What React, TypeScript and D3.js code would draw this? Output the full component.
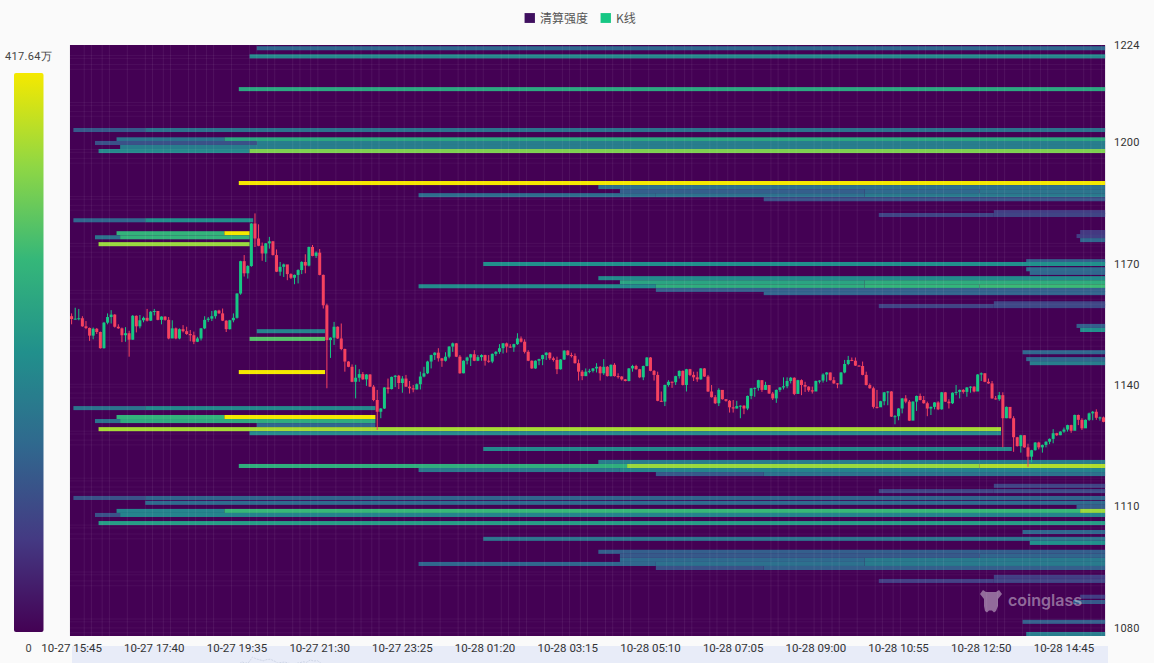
import React from 'react';
import * as d3 from 'd3';

const WIDTH = 1154;
const HEIGHT = 663;
const MAX_VALUE = 417.64;

// 5 minute candles, each opens at the previous close
const firstOpen = 1157.0;
const closes = [
  1156.3,1156.4,1156.5,1154.5,1154.1,1152.2,1153.9,1153.1,1149.1,1155.4,
  1156.8,1157.4,1154.4,1154.0,1152.3,1152.8,1151.2,1157.1,1154.5,1156.0,
  1156.6,1155.9,1158.1,1158.3,1156.1,1156.9,1156.1,1151.5,1154.0,1151.5,
  1153.8,1153.3,1152.6,1152.3,1150.7,1151.5,1154.0,1156.1,1156.4,1157.0,
  1158.4,1157.7,1155.9,1153.8,1156.0,1156.6,1162.6,1170.6,1167.6,1169.4,
  1179.9,1176.2,1174.4,1172.5,1175.0,1175.5,1172.1,1168.0,1169.2,1169.8,
  1167.4,1166.5,1167.2,1168.4,1170.4,1169.5,1174.1,1171.9,1172.7,1167.2,
  1159.7,1151.1,1151.7,1154.4,1151.5,1148.9,1145.8,1144.5,1140.8,1141.8,
  1142.7,1141.4,1142.6,1139.6,1136.3,1133.4,1134.2,1139.4,1139.0,1142.0,
  1142.3,1140.5,1141.6,1139.6,1139.2,1138.9,1140.2,1142.1,1142.9,1145.8,
  1147.4,1148.0,1146.6,1146.0,1147.0,1149.5,1150.3,1147.0,1142.9,1146.0,
  1146.8,1147.6,1146.0,1146.9,1147.4,1146.0,1145.8,1147.7,1148.2,1149.1,
  1150.3,1149.5,1149.3,1150.1,1151.5,1150.7,1148.2,1146.0,1144.1,1146.0,
  1146.4,1147.4,1148.0,1146.6,1146.2,1143.9,1146.3,1148.5,1147.4,1147.2,
  1145.4,1143.3,1142.2,1143.3,1143.5,1144.1,1144.5,1142.9,1144.5,1142.2,
  1145.0,1142.2,1142.1,1141.4,1141.0,1144.1,1144.7,1143.9,1141.9,1144.7,
  1146.8,1143.5,1142.5,1136.1,1135.9,1140.0,1140.8,1140.7,1142.2,1143.5,
  1140.0,1143.9,1142.5,1141.9,1141.4,1144.1,1142.1,1138.4,1137.0,1135.5,
  1138.8,1136.5,1136.1,1134.5,1134.2,1134.8,1134.9,1134.2,1137.3,1139.2,
  1139.3,1141.2,1138.8,1140.0,1137.9,1136.7,1138.8,1139.4,1139.7,1141.0,
  1141.8,1137.8,1141.2,1140.0,1139.6,1138.7,1138.4,1141.0,1141.1,1142.6,
  1143.1,1141.2,1140.4,1140.2,1143.1,1145.2,1146.2,1146.0,1144.8,1144.7,
  1142.5,1140.0,1139.2,1134.6,1134.5,1136.0,1138.2,1138.4,1132.2,1132.3,
  1134.2,1136.7,1135.9,1131.2,1135.9,1137.3,1136.3,1135.5,1134.2,1134.6,
  1135.7,1134.0,1138.2,1135.9,1135.5,1138.1,1138.3,1138.8,1138.3,1139.4,
  1139.6,1138.4,1142.6,1142.9,1140.8,1140.4,1136.7,1136.5,1137.5,1131.8,
  1134.6,1131.8,1127.1,1124.9,1127.6,1124.6,1122.3,1123.9,1125.8,1124.6,
  1125.2,1126.0,1126.7,1128.1,1127.6,1128.5,1129.0,1130.1,1128.7,1132.6,
  1131.4,1129.3,1131.4,1133.0,1133.4,1131.9,1132.0,1130.9,
];
const highs = [
  1157.7,1159.1,1158.8,1157.0,1155.8,1154.2,1154.2,1154.1,1153.2,1155.6,
  1157.7,1158.5,1157.5,1155.0,1154.2,1154.3,1153.4,1157.3,1157.2,1157.3,
  1156.9,1158.8,1158.3,1158.8,1158.2,1157.0,1157.0,1156.8,1156.0,1154.2,
  1154.0,1154.8,1154.4,1153.6,1153.2,1151.9,1154.1,1157.0,1156.8,1158.3,
  1158.5,1158.6,1158.9,1156.0,1156.1,1157.7,1162.7,1170.7,1172.1,1169.6,
  1180.0,1182.4,1179.7,1175.2,1175.1,1176.6,1175.6,1173.5,1170.4,1170.0,
  1169.4,1167.6,1167.3,1168.6,1170.6,1172.3,1174.2,1174.6,1173.0,1173.6,
  1167.3,1160.1,1151.8,1155.6,1154.5,1155.2,1149.0,1145.9,1145.1,1145.0,
  1143.9,1143.2,1142.7,1142.7,1140.0,1138.8,1134.3,1139.5,1141.6,1142.1,
  1142.5,1142.5,1142.2,1142.5,1141.0,1140.0,1140.4,1143.3,1144.5,1146.0,
  1147.5,1148.1,1149.1,1146.7,1148.1,1149.6,1150.5,1150.4,1147.4,1146.1,
  1147.0,1147.7,1148.6,1147.4,1147.6,1147.5,1147.4,1147.8,1148.4,1150.1,
  1150.4,1150.5,1150.1,1150.2,1152.8,1152.0,1151.3,1148.6,1146.1,1146.1,
  1146.5,1147.5,1148.1,1148.1,1147.0,1147.0,1146.4,1148.6,1148.6,1148.0,
  1147.8,1146.3,1143.7,1144.1,1144.0,1144.2,1145.4,1144.7,1146.4,1144.7,
  1145.1,1145.4,1142.9,1142.2,1141.5,1144.2,1145.0,1145.0,1144.0,1144.8,
  1146.9,1146.9,1143.7,1143.3,1138.4,1140.1,1141.2,1140.9,1142.3,1143.6,
  1143.6,1144.0,1144.0,1143.3,1143.3,1144.2,1144.2,1142.5,1140.0,1137.5,
  1139.2,1138.6,1136.5,1136.3,1136.3,1136.1,1135.0,1135.0,1137.4,1139.3,
  1139.4,1141.3,1141.2,1140.8,1140.0,1138.3,1138.9,1139.5,1141.9,1141.9,
  1142.0,1141.9,1141.3,1141.4,1140.8,1139.7,1139.6,1141.1,1141.2,1142.9,
  1143.2,1143.1,1142.0,1140.5,1143.2,1146.2,1147.2,1146.8,1146.8,1144.9,
  1145.8,1143.3,1140.4,1139.6,1138.8,1136.1,1138.3,1138.5,1138.5,1132.6,
  1134.3,1136.8,1137.5,1136.3,1136.0,1137.4,1137.9,1137.3,1135.9,1134.7,
  1135.8,1136.0,1138.3,1138.3,1136.5,1138.2,1140.0,1138.9,1139.0,1139.5,
  1139.7,1139.7,1142.7,1143.1,1142.9,1141.6,1141.0,1137.3,1138.3,1138.2,
  1134.7,1134.4,1132.3,1127.2,1127.7,1127.6,1125.5,1124.0,1125.9,1126.0,
  1125.3,1126.1,1126.8,1129.1,1128.2,1128.6,1129.5,1130.2,1130.2,1132.7,
  1132.7,1131.8,1131.5,1133.2,1133.6,1134.0,1132.2,1132.2,
];
const lows = [
  1155.0,1156.2,1156.0,1154.4,1153.8,1150.9,1151.3,1152.6,1149.0,1149.0,
  1155.0,1155.2,1154.2,1153.9,1150.6,1150.7,1147.0,1151.2,1153.0,1154.0,
  1155.5,1155.7,1155.8,1157.2,1156.0,1155.0,1155.9,1151.3,1152.5,1151.3,
  1151.3,1153.0,1152.4,1150.8,1150.1,1150.6,1151.0,1153.8,1155.6,1155.8,
  1156.4,1157.6,1155.8,1153.1,1153.7,1155.5,1156.4,1162.3,1166.8,1166.3,
  1169.2,1174.1,1174.3,1170.7,1170.4,1173.7,1172.0,1167.9,1167.0,1166.7,
  1165.9,1166.2,1164.9,1165.1,1167.4,1167.6,1169.3,1171.8,1171.4,1167.1,
  1158.9,1139.2,1146.7,1149.9,1151.4,1148.6,1143.3,1144.4,1140.7,1136.7,
  1140.8,1141.3,1139.8,1139.5,1136.0,1128.9,1131.8,1134.1,1137.9,1138.9,
  1139.5,1139.0,1138.1,1139.5,1137.9,1138.2,1138.9,1138.9,1141.9,1142.7,
  1144.1,1146.2,1145.8,1144.5,1145.8,1146.6,1148.2,1146.9,1142.8,1142.9,
  1145.1,1144.7,1145.9,1145.9,1146.0,1144.8,1145.5,1145.4,1147.2,1147.7,
  1147.8,1148.0,1149.2,1148.2,1149.9,1150.5,1147.8,1145.9,1144.0,1144.0,
  1144.9,1144.9,1146.2,1146.2,1145.8,1142.7,1143.8,1146.2,1147.3,1146.8,
  1145.3,1141.1,1141.2,1142.2,1142.9,1143.1,1143.1,1141.1,1142.5,1142.1,
  1142.1,1142.1,1141.6,1141.1,1140.9,1140.9,1143.3,1143.8,1141.7,1141.2,
  1144.6,1143.4,1141.1,1136.0,1135.8,1134.8,1139.6,1139.3,1140.0,1141.6,
  1139.9,1138.4,1142.2,1141.0,1140.8,1141.3,1142.0,1138.3,1136.9,1135.3,
  1134.8,1136.4,1135.9,1133.2,1133.2,1134.2,1131.8,1132.8,1133.8,1136.5,
  1137.1,1138.6,1138.3,1138.8,1137.8,1136.3,1135.6,1138.3,1138.9,1139.2,
  1140.4,1137.5,1137.9,1137.5,1138.3,1138.3,1137.9,1138.8,1140.4,1140.6,
  1140.8,1141.1,1140.3,1139.2,1140.1,1142.9,1144.9,1145.9,1144.7,1144.6,
  1142.4,1139.9,1139.1,1134.2,1134.2,1135.0,1135.0,1135.0,1132.1,1130.3,
  1131.3,1133.0,1135.5,1131.1,1131.4,1133.6,1136.2,1135.4,1132.3,1132.6,
  1134.0,1133.8,1133.9,1135.8,1134.2,1135.3,1137.5,1136.7,1137.9,1137.1,
  1138.1,1138.2,1138.8,1141.0,1140.7,1140.3,1136.6,1136.4,1136.1,1124.6,
  1131.8,1131.7,1123.5,1124.8,1123.3,1124.5,1119.8,1120.9,1123.8,1124.1,
  1123.3,1124.6,1125.4,1125.6,1127.4,1127.6,1128.2,1128.5,1128.2,1130.1,
  1130.1,1128.9,1129.5,1131.1,1131.3,1131.4,1131.2,1130.8,
];

// liquidation bands: [price, first candle, last candle, intensity in 万]
const bands: [number, number, number, number][] = [
  [1223.2,52,288,138],[1221.2,50,288,196],[1213.1,47,288,250],
  [1203.0,1,21,117],[1203.0,21,288,159],
  [1200.7,13,43,159],[1200.7,43,288,250],
  [1199.8,7,52,104],[1199.8,52,288,175],
  [1198.8,14,288,175],
  [1197.8,8,50,196],[1197.8,50,288,334],
  [1189.9,47,288,417.64],
  [1188.9,147,288,155],
  [1187.9,153,221,125],[1187.9,221,253,142],[1187.9,253,288,160],
  [1186.9,97,163,150],[1186.9,163,221,155],[1186.9,221,288,170],
  [1185.9,193,288,104],
  [1182.7,257,288,75],[1182.0,225,257,84],[1182.0,257,288,84],
  [1177.8,281,288,67],[1176.8,280,288,75],[1175.8,281,288,138],
  [1180.7,1,21,138],[1180.7,21,51,209],
  [1177.5,13,43,272],[1177.5,43,50,417.64],
  [1176.5,7,14,159],[1176.5,14,50,272],
  [1174.8,8,50,355],
  [1170.6,266,288,125],[1169.9,115,288,209],
  [1168.6,266,288,146],[1167.7,267,288,138],
  [1166.4,147,288,200],
  [1165.4,153,221,245],[1165.4,221,288,259],
  [1164.4,97,163,200],[1164.4,163,221,262],[1164.4,221,253,276],[1164.4,253,288,284],
  [1163.5,163,288,125],[1162.7,193,288,134],
  [1160.2,257,288,84],[1159.5,225,257,84],[1159.5,257,288,92],
  [1154.6,280,288,125],[1153.6,281,288,209],
  [1153.3,52,71,188],[1151.4,50,71,301],[1143.2,47,71,417.64],
  [1148.1,265,288,138],[1146.4,266,288,138],[1145.4,267,288,175],
  [1134.3,1,21,159],[1134.3,21,85,196],
  [1132.1,13,43,272],[1132.1,43,85,417.64],
  [1131.1,7,14,159],[1131.1,14,85,259],
  [1130.1,52,85,138],
  [1129.1,8,259,364],
  [1128.1,50,259,196],
  [1124.2,115,262,196],
  [1121.0,147,288,175],
  [1120.0,47,155,262],[1120.0,155,253,355],[1120.0,253,288,372],
  [1119.0,97,153,167],[1119.0,153,288,188],
  [1118.0,163,193,117],[1118.0,193,288,159],
  [1115.1,257,288,84],[1113.8,225,257,84],[1113.8,257,288,92],
  [1112.1,1,21,104],[1112.1,21,288,134],
  [1110.9,21,288,142],
  [1109.9,280,288,125],
  [1108.9,13,43,188],[1108.9,43,281,280],[1108.9,281,288,355],
  [1107.9,7,14,104],[1107.9,14,288,188],
  [1105.9,8,288,230],
  [1103.7,265,288,138],
  [1102.0,115,288,159],[1101.0,267,288,209],
  [1098.8,147,288,125],
  [1097.8,153,253,117],[1097.8,253,288,134],
  [1096.8,153,221,142],[1096.8,221,288,170],
  [1095.8,97,163,138],[1095.8,163,221,155],[1095.8,221,288,172],
  [1094.8,163,193,104],[1094.8,193,288,125],
  [1092.6,257,288,75],[1091.6,225,257,75],[1091.6,257,288,84],
  [1087.7,281,288,75],[1086.4,279,288,117],
  [1081.5,265,288,125],[1078.5,266,288,175],
];

const timeLabels = ['10-27 15:45','10-27 17:40','10-27 19:35','10-27 21:30','10-27 23:25','10-28 01:20','10-28 03:15','10-28 05:10','10-28 07:05','10-28 09:00','10-28 10:55','10-28 12:50','10-28 14:45'];
const priceTicks = [1224, 1200, 1170, 1140, 1110, 1080];
const heatColors = ['#440154','#443a83','#30688e','#21908c','#35b779','#8fd744','#f5e900'];
const legendItems = [
  { name: '清算强度', color: '#3f0f5f', x: 524.5 },
  { name: 'K线', color: '#16c784', x: 600.5 },
];
const UP = '#16c784';
const DOWN = '#f5425f';
const LABEL_STEP = 23;

// repeating offsets of the cell seams that show through the heatmap
const seamCols = [4, 6, 9, 11, 16, 21, 23, 26, 28];
const seamRows = [0.8, 2, 3.5, 4.2];

export default function App() {
  const x = d3.scaleBand<number>().domain(d3.range(closes.length)).range([69.8, 1105.3]);
  const y = d3.scaleLinear().domain([1224, 1078]).range([45, 636]);
  const color = d3.scaleLinear<string>()
    .domain(heatColors.map((_, i) => (i / (heatColors.length - 1)) * MAX_VALUE))
    .range(heatColors);
  const bw = x.bandwidth();
  const rowH = y(1199) - y(1200);
  const opens = closes.map((_, i) => (i === 0 ? firstOpen : closes[i - 1]));

  // the strip under the chart only shows the tops of the overview line
  const sliderX = d3.scaleLinear().domain([0, closes.length - 1]).range([72, 1108]);
  const sliderY = d3.scaleLinear().domain([1180, 1174]).range([657, 660]);
  const sliderLine = d3.line<number>().x((_, i) => sliderX(i)).y(d => sliderY(d));

  const vSeams = d3.range(0, closes.length, 29).flatMap(s => seamCols.map(o => s + o)).filter(i => i < closes.length);
  const hSeams = d3.range(1078, 1224, 11.6).flatMap(s => seamRows.map(o => s + o)).filter(p => p < 1224);

  return (
    <svg width={WIDTH} height={HEIGHT} style={{ position: 'fixed', left: 0, top: 0, background: '#fafafa' }}>
      <defs>
        <linearGradient id="heatScale" x1="0" y1="1" x2="0" y2="0">
          {heatColors.map((c, i) => (
            <stop key={c} offset={i / (heatColors.length - 1)} stopColor={c} />
          ))}
        </linearGradient>
        <clipPath id="plotClip">
          <rect x={69.8} y={45} width={1035.5} height={591} />
        </clipPath>
      </defs>

      {/* Legend */}
      {legendItems.map(d => (
        <g key={d.name}>
          <rect x={d.x} y={13} width={10.5} height={10} fill={d.color} stroke="#fff" strokeOpacity={0.3} strokeWidth={0.5} />
          <text x={d.x + 15.5} y={22.5} fontSize={12} fill="#555" fontFamily="'Noto Sans CJK SC', sans-serif">{d.name}</text>
        </g>
      ))}

      {/* Color scale */}
      <text x={28.5} y={60} fontSize={11} fill="#444" textAnchor="middle" fontFamily="Roboto, sans-serif" letterSpacing={0.3}>417.64万</text>
      <rect x={14} y={73} width={29.5} height={559} rx={2} fill="url(#heatScale)" />
      <text x={28.5} y={652} fontSize={11} fill="#444" textAnchor="middle" fontFamily="Roboto, sans-serif">0</text>

      {/* Data zoom strip */}
      <rect x={72} y={646} width={1036} height={17} fill="#e8ecf8" />
      <path d={sliderLine(closes) ?? ''} fill="none" stroke="#cfd6e6" strokeWidth={1} strokeDasharray="2 1" />

      {/* Heatmap */}
      <g clipPath="url(#plotClip)">
        <rect x={69.8} y={45} width={1035.5} height={591} fill={color(0)} />
        {bands.map(([price, from, to, value], i) => (
          <rect
            key={i}
            x={x(from)}
            y={y(price + 0.5)}
            width={(to - from) * bw}
            height={rowH}
            fill={color(value)}
          />
        ))}
        {vSeams.map(i => (
          <line key={`v${i}`} x1={x(i)} x2={x(i)} y1={45} y2={636} stroke="#fff" strokeOpacity={0.07} />
        ))}
        {hSeams.map(p => (
          <line key={`h${p}`} x1={69.8} x2={1105.3} y1={y(p)} y2={y(p)} stroke="#fff" strokeOpacity={0.05} />
        ))}

        {/* Candles */}
        {closes.map((c, i) => {
          const cx = (x(i) ?? 0) + bw / 2;
          const up = c >= opens[i];
          const top = y(Math.max(c, opens[i]));
          const bodyH = Math.max(1, Math.abs(y(c) - y(opens[i])));
          return (
            <g key={i} fill={up ? UP : DOWN} stroke="none">
              <rect x={cx - 0.5} y={y(highs[i])} width={1} height={y(lows[i]) - y(highs[i])} />
              <rect x={cx - 1.5} y={top} width={3} height={bodyH} />
            </g>
          );
        })}
      </g>

      {/* Axes */}
      {priceTicks.map(t => (
        <text key={t} x={1114} y={y(t) + 4} fontSize={11} fill="#333" fontFamily="Roboto, sans-serif" letterSpacing={0.2}>{t}</text>
      ))}
      {timeLabels.map((t, i) => (
        <text key={t} x={(x(i * LABEL_STEP) ?? 0) + bw / 2} y={652} fontSize={11.5} fill="#333" textAnchor="middle" fontFamily="Roboto, sans-serif">{t}</text>
      ))}

      {/* Watermark */}
      <g fill="#fff" fillOpacity={0.42}>
        <path d="M980 594 L983 590 L986 592 L996 592 L999 590 L1002 594 L998 599 L998 606 L996 611 L994 612.5 L992 610.5 L989 610.5 L987 612.5 L985 611 L984 606 L984 599 Z" />
        <text x={1008} y={606} fontSize={16} fontWeight={600} fontFamily="Inter, sans-serif">coinglass</text>
      </g>
    </svg>
  );
}
